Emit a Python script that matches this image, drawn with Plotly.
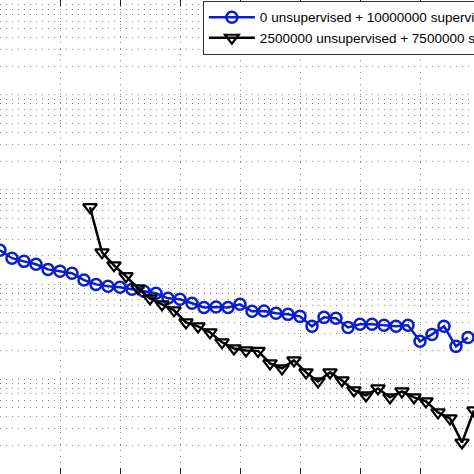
import plotly.graph_objects as go

# blue series: one point per step, starting at 0
sup_x = list(range(40))
sup_err = [
    0.0229, 0.0189, 0.0175, 0.0163, 0.0144, 0.0138, 0.0131, 0.0111, 0.0100, 0.00955,
    0.00932, 0.00888, 0.00846, 0.00805, 0.00713, 0.00696, 0.00632, 0.00570, 0.00578, 0.00570,
    0.00616, 0.00520, 0.00525, 0.00495, 0.00483, 0.00460, 0.00361, 0.00449, 0.00439, 0.00352,
    0.00379, 0.00379, 0.00370, 0.00361, 0.00370, 0.00251, 0.00297, 0.00361, 0.00222, 0.00276,
]

# black series: half a step later, starting at 7.5
mix_x = [7.5 + k for k in range(33)]
mix_err = [
    0.0652, 0.0218, 0.0159, 0.0122, 0.00910, 0.00713, 0.00616, 0.00533, 0.00398, 0.00361,
    0.00312, 0.00245, 0.00211, 0.00201, 0.00199, 0.00147, 0.00130, 0.00158, 0.00118, 0.000948,
    0.00118, 0.000971, 0.000762, 0.000675, 0.000800, 0.000643, 0.000743, 0.000643, 0.000583, 0.000446,
    0.000386, 0.000215, 0.000468,
]

labels = [
    "0 unsupervised + 10000000 supervised",
    "2500000 unsupervised + 7500000 supervised",
]

blue = "rgb(10,30,205)"
grid = "#8a8a8a"
dots = "1px,5px"

fig = go.Figure()
fig.add_trace(go.Scatter(
    x=sup_x, y=sup_err, name=labels[0], mode="lines+markers",
    line=dict(color=blue, width=2.5),
    marker=dict(symbol="circle-open", size=11, color=blue, line=dict(width=2.5)),
))
# on the top x axis (same scale as the bottom one) so that axis gets drawn too
fig.add_trace(go.Scatter(
    x=mix_x, y=mix_err, name=labels[1], mode="lines+markers", xaxis="x2",
    line=dict(color="black", width=2.5),
    marker=dict(symbol="triangle-down-open", size=12, color="black", line=dict(width=2.2)),
))

tick_style = dict(
    tick0=0, dtick=5, ticks="inside", ticklen=6, tickcolor="#222", tickwidth=1,
    showticklabels=False, showline=False, zeroline=False,
)
fig.update_layout(
    xaxis=dict(range=[0, 39.5], showgrid=True, gridcolor=grid, griddash=dots, gridwidth=1, **tick_style),
    xaxis2=dict(overlaying="x", side="top", matches="x", showgrid=False, **tick_style),
    yaxis=dict(
        type="log", range=[-4, 1], dtick=1,
        showgrid=True, gridcolor=grid, griddash=dots, gridwidth=1,
        minor=dict(dtick="D1", showgrid=True, gridcolor=grid, griddash=dots, gridwidth=1),
        ticks="", showticklabels=False, showline=False, zeroline=False,
    ),
)

fig.update_layout(
    width=474, height=474,
    margin=dict(l=0, r=0, t=0, b=0, autoexpand=False),
    paper_bgcolor="white", plot_bgcolor="white",
    font=dict(family="Liberation Sans, Arial, sans-serif", size=12, color="black"),
    legend=dict(
        x=0.428, y=0.998, xanchor="left", yanchor="top",
        bgcolor="white", bordercolor="#333", borderwidth=1,
        font=dict(size=13.5), tracegroupgap=0, itemwidth=46,
    ),
)

# the page's default body margin would push the plot 8px off
fig.write_html(
    "out.html",
    config={"displayModeBar": False},
    post_script="document.body.style.margin = '0';",
)
